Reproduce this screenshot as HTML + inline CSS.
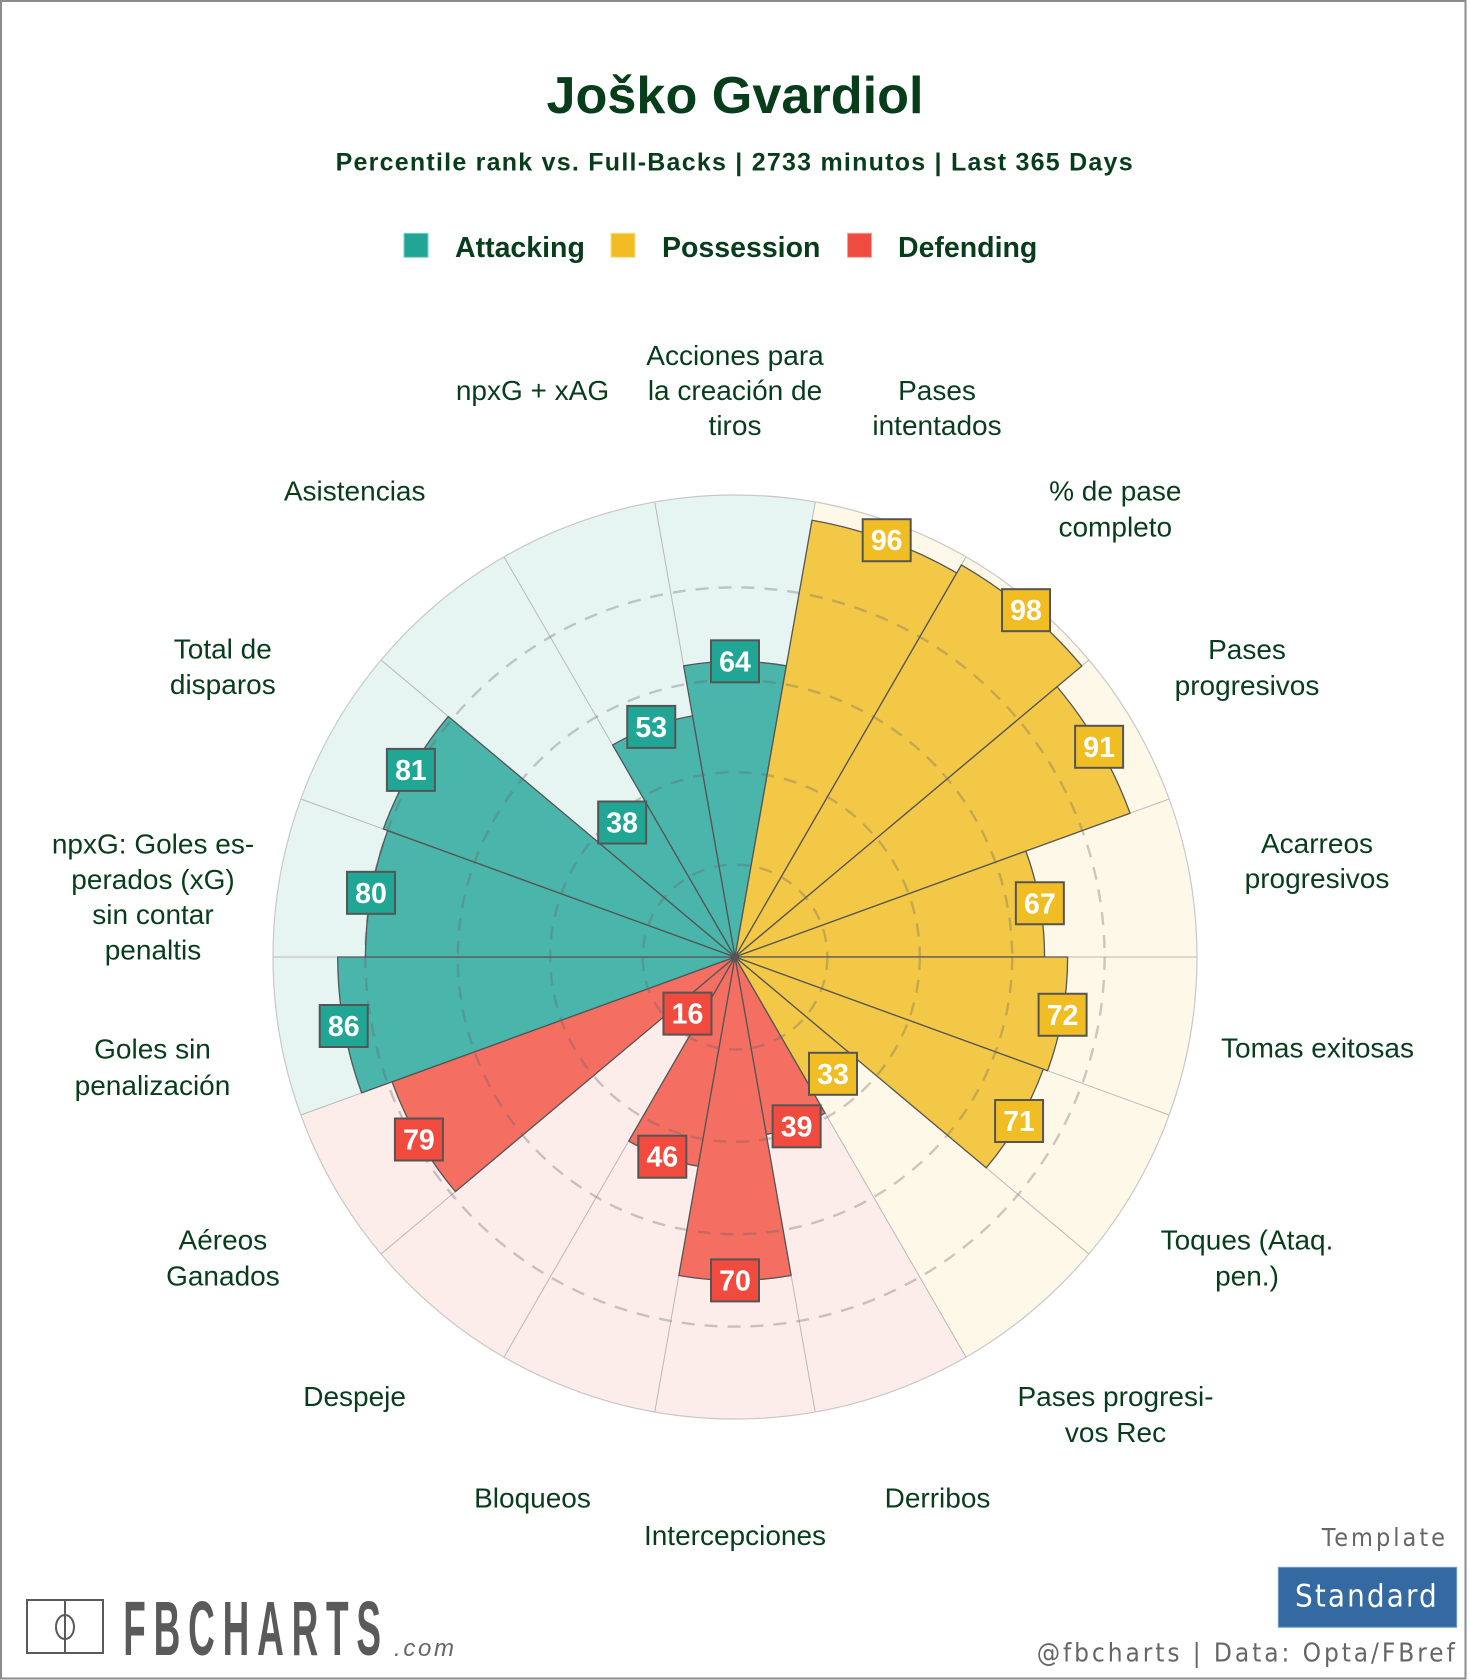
<!DOCTYPE html>
<html>
<head>
<meta charset="utf-8">
<style>
html,body{margin:0;padding:0;background:#fff;}
body{width:1470px;height:1680px;overflow:hidden;}
svg{display:block;}
.lab{font-family:"Liberation Sans",Arial,sans-serif;font-size:28px;fill:#083d1c;text-anchor:middle;}
.val{font-family:"Liberation Sans",Arial,sans-serif;font-size:28.5px;font-weight:bold;fill:#fff;text-anchor:middle;}
.ft{font-family:"DejaVu Sans Condensed","DejaVu Sans",sans-serif;font-stretch:condensed;}
</style>
</head>
<body>
<svg width="1470" height="1680" viewBox="0 0 1470 1680" xmlns="http://www.w3.org/2000/svg">
  <rect x="0" y="0" width="1470" height="1680" fill="#fff"/>
  <rect x="1" y="1" width="1464.5" height="1677.5" fill="none" stroke="#8c8c8c" stroke-width="2"/>

  <!-- Title -->
  <text x="735" y="113" text-anchor="middle" font-family="'Liberation Sans',Arial,sans-serif" font-weight="bold" font-size="52" fill="#083d1c" textLength="377" lengthAdjust="spacingAndGlyphs">Joško Gvardiol</text>
  <text x="335.6" y="170.7" font-family="'Liberation Sans',Arial,sans-serif" font-weight="bold" font-size="25" fill="#083d1c" textLength="797" lengthAdjust="spacing">Percentile rank vs. Full-Backs | 2733 minutos | Last 365 Days</text>

  <!-- Legend -->
  <rect x="404" y="233.3" width="24" height="24" fill="#21a696" stroke="#7fd0c6" stroke-width="1"/>
  <text x="455" y="257" font-family="'Liberation Sans',Arial,sans-serif" font-weight="bold" font-size="28.5" fill="#083d1c">Attacking</text>
  <rect x="611" y="233.3" width="24" height="24" fill="#f2bd24" stroke="#f8dc8a" stroke-width="1"/>
  <text x="662" y="257" font-family="'Liberation Sans',Arial,sans-serif" font-weight="bold" font-size="28.5" fill="#083d1c">Possession</text>
  <rect x="847.5" y="233.3" width="24" height="24" fill="#ef4b3e" stroke="#f7a099" stroke-width="1"/>
  <text x="898" y="257" font-family="'Liberation Sans',Arial,sans-serif" font-weight="bold" font-size="28.5" fill="#083d1c">Defending</text>

  <!-- Background sectors -->
  <path d="M735,957 L815.23,502.02 A462,462 0 0 0 300.86,1115.01 Z" fill="#e6f5f2"/>
  <path d="M735,957 L300.86,1115.01 A462,462 0 0 0 966,1357.11 Z" fill="#fcecea"/>
  <path d="M735,957 L966,1357.11 A462,462 0 0 0 815.23,502.02 Z" fill="#fdf8e8"/>

  <!-- Divider lines -->
  <g stroke="#b9b9b9" stroke-width="1">
    <line x1="1197" y1="957" x2="273" y2="957"/>
    <line x1="1169.14" y1="798.99" x2="300.86" y2="1115.01"/>
    <line x1="1088.91" y1="660.03" x2="381.09" y2="1253.97"/>
    <line x1="966" y1="556.89" x2="504" y2="1357.11"/>
    <line x1="815.23" y1="502.02" x2="654.77" y2="1411.98"/>
    <line x1="654.77" y1="502.02" x2="815.23" y2="1411.98"/>
    <line x1="504" y1="556.89" x2="966" y2="1357.11"/>
    <line x1="381.09" y1="660.03" x2="1088.91" y2="1253.97"/>
    <line x1="300.86" y1="798.99" x2="1169.14" y2="1115.01"/>
  </g>
  <circle cx="735" cy="957" r="462" fill="none" stroke="#c8c8c8" stroke-width="1.2"/>

  <!-- Bars -->
  <g stroke="#555" stroke-width="1.3" stroke-linejoin="round">
    <path fill="#4ab5aa" d="M735,957 L786.34,665.81 A295.68,295.68 0 0 0 683.66,665.81 Z"/>
    <path fill="#f3c846" d="M735,957 L956.76,572.90 A443.52,443.52 0 0 0 812.02,520.22 Z"/>
    <path fill="#f3c846" d="M735,957 L1081.83,665.97 A452.76,452.76 0 0 0 961.38,564.90 Z"/>
    <path fill="#f3c846" d="M735,957 L1130.07,813.21 A420.42,420.42 0 0 0 1057.06,686.76 Z"/>
    <path fill="#f3c846" d="M735,957 L1044.54,957 A309.54,309.54 0 0 0 1025.87,851.13 Z"/>
    <path fill="#f3c846" d="M735,957 L1047.58,1070.77 A332.64,332.64 0 0 0 1067.64,957 Z"/>
    <path fill="#f3c846" d="M735,957 L986.27,1167.85 A328.02,328.02 0 0 0 1043.24,1069.19 Z"/>
    <path fill="#f3c846" d="M735,957 L811.23,1089.03 A152.46,152.46 0 0 0 851.79,1055.0 Z"/>
    <path fill="#f46e62" d="M735,957 L766.29,1134.44 A180.18,180.18 0 0 0 825.09,1113.04 Z"/>
    <path fill="#f46e62" d="M735,957 L678.84,1275.49 A323.4,323.4 0 0 0 791.16,1275.49 Z"/>
    <path fill="#f46e62" d="M735,957 L628.74,1141.05 A212.52,212.52 0 0 0 698.10,1166.29 Z"/>
    <path fill="#f46e62" d="M735,957 L678.37,1004.51 A73.92,73.92 0 0 0 698.04,1021.02 Z"/>
    <path fill="#f46e62" d="M735,957 L392.03,1081.83 A364.98,364.98 0 0 0 455.41,1191.61 Z"/>
    <path fill="#4ab5aa" d="M735,957 L337.68,957 A397.32,397.32 0 0 0 361.64,1092.89 Z"/>
    <path fill="#4ab5aa" d="M735,957 L387.69,830.59 A369.6,369.6 0 0 0 365.4,957 Z"/>
    <path fill="#4ab5aa" d="M735,957 L448.33,716.46 A374.22,374.22 0 0 0 383.35,829.01 Z"/>
    <path fill="#4ab5aa" d="M735,957 L647.22,804.96 A175.56,175.56 0 0 0 600.52,844.15 Z"/>
    <path fill="#4ab5aa" d="M735,957 L692.48,715.86 A244.86,244.86 0 0 0 612.57,744.95 Z"/>
  </g>

  <!-- Dashed circles -->
  <g fill="none" stroke="rgba(100,100,100,0.33)" stroke-width="2.4" stroke-dasharray="13 10">
    <circle cx="735" cy="957" r="92.4"/>
    <circle cx="735" cy="957" r="184.8"/>
    <circle cx="735" cy="957" r="277.2"/>
    <circle cx="735" cy="957" r="369.6"/>
  </g>
  <circle cx="735" cy="957" r="3" fill="#555"/>

  <!-- Value boxes -->
  <g stroke="#555" stroke-width="2">
    <rect x="711" y="640.32" width="48" height="42" fill="#21a696"/>
    <rect x="862.69" y="519.23" width="48" height="42" fill="#f1bd25"/>
    <rect x="1002.03" y="589.17" width="48" height="42" fill="#f1bd25"/>
    <rect x="1075.10" y="725.79" width="48" height="42" fill="#f1bd25"/>
    <rect x="1015.84" y="882.25" width="48" height="42" fill="#f1bd25"/>
    <rect x="1038.59" y="993.76" width="48" height="42" fill="#f1bd25"/>
    <rect x="995.07" y="1100.01" width="48" height="42" fill="#f1bd25"/>
    <rect x="809.0" y="1052.79" width="48" height="42" fill="#f1bd25"/>
    <rect x="772.63" y="1105.31" width="48" height="42" fill="#f04b3e"/>
    <rect x="711" y="1259.4" width="48" height="42" fill="#f04b3e"/>
    <rect x="638.31" y="1135.70" width="48" height="42" fill="#f04b3e"/>
    <rect x="663.48" y="992.63" width="48" height="42" fill="#f04b3e"/>
    <rect x="394.92" y="1118.49" width="48" height="42" fill="#f04b3e"/>
    <rect x="319.72" y="1004.99" width="48" height="42" fill="#21a696"/>
    <rect x="347.02" y="871.82" width="48" height="42" fill="#21a696"/>
    <rect x="386.92" y="748.89" width="48" height="42" fill="#21a696"/>
    <rect x="598.15" y="801.51" width="48" height="42" fill="#21a696"/>
    <rect x="627.25" y="705.91" width="48" height="42" fill="#21a696"/>
  </g>
  <g class="val">
    <text class="val" x="735" y="671.32">64</text>
    <text class="val" x="886.69" y="550.23">96</text>
    <text class="val" x="1026.03" y="620.17">98</text>
    <text class="val" x="1099.10" y="756.79">91</text>
    <text class="val" x="1039.84" y="913.25">67</text>
    <text class="val" x="1062.59" y="1024.76">72</text>
    <text class="val" x="1019.07" y="1131.01">71</text>
    <text class="val" x="833.0" y="1083.79">33</text>
    <text class="val" x="796.63" y="1136.31">39</text>
    <text class="val" x="735" y="1290.4">70</text>
    <text class="val" x="662.31" y="1166.70">46</text>
    <text class="val" x="687.48" y="1023.63">16</text>
    <text class="val" x="418.92" y="1149.49">79</text>
    <text class="val" x="343.72" y="1035.99">86</text>
    <text class="val" x="371.02" y="902.82">80</text>
    <text class="val" x="410.92" y="779.89">81</text>
    <text class="val" x="622.15" y="832.51">38</text>
    <text class="val" x="651.25" y="736.91">53</text>
  </g>

  <!-- Category labels -->
  <text class="lab" x="735" y="365">Acciones para</text>
  <text class="lab" x="735" y="400">la creación de</text>
  <text class="lab" x="735" y="435">tiros</text>

  <text class="lab" x="532.5" y="400">npxG + xAG</text>

  <text class="lab" x="937" y="400">Pases</text>
  <text class="lab" x="937" y="435">intentados</text>

  <text class="lab" x="1115.3" y="500.7">% de pase</text>
  <text class="lab" x="1115.3" y="536.5">completo</text>

  <text class="lab" x="1247" y="659">Pases</text>
  <text class="lab" x="1247" y="695">progresivos</text>

  <text class="lab" x="1317" y="853">Acarreos</text>
  <text class="lab" x="1317" y="888">progresivos</text>

  <text class="lab" x="1317.5" y="1057.5">Tomas exitosas</text>

  <text class="lab" x="1247" y="1249.5">Toques (Ataq.</text>
  <text class="lab" x="1247" y="1285.5">pen.)</text>

  <text class="lab" x="1115.5" y="1406">Pases progresi-</text>
  <text class="lab" x="1115.5" y="1442">vos Rec</text>

  <text class="lab" x="937.5" y="1507.5">Derribos</text>
  <text class="lab" x="735" y="1545">Intercepciones</text>
  <text class="lab" x="532.5" y="1507.5">Bloqueos</text>

  <text class="lab" x="354.6" y="1406">Despeje</text>

  <text class="lab" x="222.9" y="1249.5">Aéreos</text>
  <text class="lab" x="222.9" y="1285.5">Ganados</text>

  <text class="lab" x="152.5" y="1058.3">Goles sin</text>
  <text class="lab" x="152.5" y="1095">penalización</text>

  <text class="lab" x="153" y="853.3">npxG: Goles es-</text>
  <text class="lab" x="153" y="889">perados (xG)</text>
  <text class="lab" x="153" y="924">sin contar</text>
  <text class="lab" x="153" y="959.3">penaltis</text>

  <text class="lab" x="222.8" y="658.5">Total de</text>
  <text class="lab" x="222.8" y="694">disparos</text>

  <text class="lab" x="354.7" y="500.7">Asistencias</text>

  <!-- Footer: logo -->
  <g fill="none" stroke="#5a5a5a" stroke-width="2">
    <rect x="27" y="1600" width="76" height="53"/>
    <line x1="65" y1="1600" x2="65" y2="1653"/>
    <ellipse cx="65" cy="1627" rx="9" ry="12"/>
  </g>
  <g transform="translate(123.3,1655) scale(0.48,1)">
    <text x="0" y="0" font-family="'Liberation Sans',Arial,sans-serif" font-weight="bold" font-size="77" fill="#5a5a5a" textLength="537" lengthAdjust="spacing">FBCHARTS</text>
  </g>
  <text x="394" y="1656" font-family="'Liberation Sans',Arial,sans-serif" font-style="italic" font-size="24" fill="#666" textLength="60" lengthAdjust="spacing">.com</text>

  <!-- Footer: right -->
  <text class="ft" x="1321.7" y="1546" font-size="25" fill="#666" textLength="123.3" lengthAdjust="spacing">Template</text>
  <rect x="1278.3" y="1567.3" width="178.4" height="60" fill="#3569a1" stroke="#7a9fcb" stroke-width="1"/>
  <text class="ft" x="1295" y="1606.7" font-size="31" fill="#fff" textLength="141.7" lengthAdjust="spacing">Standard</text>
  <text class="ft" x="1036.7" y="1661.7" font-size="26" fill="#666" textLength="418" lengthAdjust="spacing">@fbcharts | Data: Opta/FBref</text>
</svg>
</body>
</html>
